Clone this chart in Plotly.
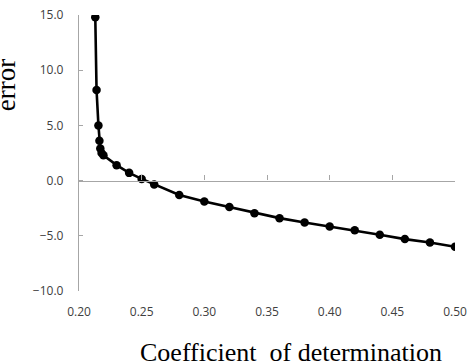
import plotly.graph_objects as go

r2 = [0.213, 0.214, 0.2155, 0.2163, 0.217, 0.218, 0.2195, 0.23, 0.24, 0.25, 0.26,
      0.28, 0.30, 0.32, 0.34, 0.36, 0.38, 0.40, 0.42, 0.44, 0.46, 0.48, 0.50]
err = [14.8, 8.2, 5.0, 3.6, 2.9, 2.5, 2.3, 1.4, 0.7, 0.15, -0.35,
       -1.3, -1.9, -2.4, -2.95, -3.4, -3.8, -4.15, -4.5, -4.9, -5.3, -5.6, -6.0]
x_ticks = [0.20, 0.25, 0.30, 0.35, 0.40, 0.45, 0.50]
y_ticks = [-10, -5, 0, 5, 10, 15]
x_title = "Coefficient  of determination"
y_title = "error"

axis_gray = "#a6a6a6"
tick_font = dict(family="Open Sans", size=12, color="#404040")

fig = go.Figure()
fig.add_trace(go.Scatter(
    x=r2, y=err, mode="lines+markers",
    line=dict(color="black", width=2.6),
    marker=dict(color="black", size=8.5),
    showlegend=False, hoverinfo="skip",
))
# invisible copy to render the bottom tick-label axis
fig.add_trace(go.Scatter(
    x=r2, y=err, xaxis="x2", mode="markers", opacity=0,
    showlegend=False, hoverinfo="skip",
))

ymin, ymax = -10, 15
fig.update_layout(
    width=474, height=361,
    margin=dict(l=79, r=19, t=6, b=70),
    paper_bgcolor="white", plot_bgcolor="white",
    xaxis=dict(
        range=[0.2, 0.5], tickvals=x_ticks, showticklabels=False,
        anchor="free", position=(0 - ymin) / (ymax - ymin),
        showline=True, linecolor=axis_gray, linewidth=1.3,
        ticks="inside", ticklen=5, tickcolor=axis_gray, tickwidth=1.3,
        showgrid=False, zeroline=False,
    ),
    xaxis2=dict(
        range=[0.2, 0.5], tickvals=x_ticks, tickformat=".2f",
        overlaying="x", side="bottom", anchor="y",
        showline=False, ticks="", showgrid=False, zeroline=False,
        tickfont=tick_font, ticklabelstandoff=12, ticklabeloverflow="allow",
    ),
    yaxis=dict(
        range=[ymin, ymax], tickvals=y_ticks, tickformat=".1f",
        showline=True, linecolor=axis_gray, linewidth=1.3,
        ticks="inside", ticklen=4, tickcolor=axis_gray, tickwidth=1.3,
        showgrid=False, zeroline=False,
        tickfont=tick_font, ticklabelstandoff=12, ticklabeloverflow="allow",
    ),
    annotations=[
        dict(text=y_title, textangle=-90, xref="paper", yref="paper",
             x=-0.192, y=0.745, showarrow=False, xanchor="center", yanchor="middle",
             font=dict(family="Liberation Serif", size=27, color="black")),
        dict(text=x_title, xref="paper", yref="paper",
             x=0.563, y=-0.222, showarrow=False, xanchor="center", yanchor="middle",
             font=dict(family="Liberation Serif", size=26, color="black")),
    ],
)

fig.write_html("out.html", config={"displayModeBar": False},
               post_script="document.body.style.margin='0';")
